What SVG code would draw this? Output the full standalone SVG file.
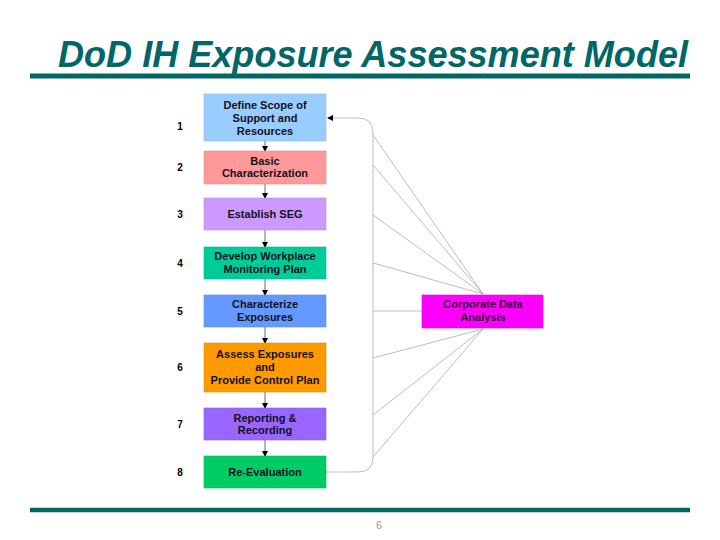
<svg xmlns="http://www.w3.org/2000/svg" width="720" height="540" viewBox="0 0 720 540">
<style>
.t{font-family:"Liberation Sans",Arial,sans-serif;font-weight:bold;font-size:11px;fill:#111122;text-anchor:middle}
.n{font-family:"Liberation Sans",Arial,sans-serif;font-weight:bold;font-size:10px;fill:#000;text-anchor:middle}
.c{stroke:#444;stroke-width:0.8;fill:none}
.f{stroke:#a0a0a0;stroke-width:0.7;fill:none}
.b{stroke-width:0.6}
</style>
<defs>
<marker id="ah" markerWidth="6" markerHeight="6" refX="5" refY="3" orient="auto" markerUnits="userSpaceOnUse">
<path d="M0,0 L6,3 L0,6 Z" fill="#000"/>
</marker>
</defs>
<rect width="720" height="540" fill="#fff"/>
<text x="373" y="67" font-family="'Liberation Sans',Arial,sans-serif" font-weight="bold" font-style="italic" font-size="36" fill="#006666" text-anchor="middle" textLength="630" lengthAdjust="spacingAndGlyphs">DoD IH Exposure Assessment Model</text>
<line x1="30" y1="76" x2="690" y2="76" stroke="#006666" stroke-width="5"/>
<line x1="30" y1="510" x2="690" y2="510" stroke="#006666" stroke-width="4.5"/>
<text x="379" y="529" font-family="'Liberation Sans',Arial,sans-serif" font-size="11" fill="#999" text-anchor="middle">6</text>

<g id="connectors">
<line class="c" x1="265" y1="141" x2="265" y2="151" marker-end="url(#ah)"/>
<line class="c" x1="265" y1="184" x2="265" y2="198" marker-end="url(#ah)"/>
<line class="c" x1="265" y1="230" x2="265" y2="247" marker-end="url(#ah)"/>
<line class="c" x1="265" y1="279" x2="265" y2="295" marker-end="url(#ah)"/>
<line class="c" x1="265" y1="327" x2="265" y2="343" marker-end="url(#ah)"/>
<line class="c" x1="265" y1="392" x2="265" y2="408" marker-end="url(#ah)"/>
<line class="c" x1="265" y1="440" x2="265" y2="456" marker-end="url(#ah)"/>
<path class="f" d="M326,472 H358 Q373,472 373,457 V133 Q373,118 358,118 H328" marker-end="url(#ah)"/>
<line class="f" x1="483" y1="294" x2="373" y2="135"/>
<line class="f" x1="483" y1="294" x2="373" y2="165"/>
<line class="f" x1="483" y1="294" x2="373" y2="215"/>
<line class="f" x1="483" y1="294" x2="373" y2="263"/>
<line class="f" x1="373" y1="311" x2="422" y2="311"/>
<line class="f" x1="483" y1="329" x2="373" y2="358"/>
<line class="f" x1="483" y1="329" x2="373" y2="415"/>
<line class="f" x1="483" y1="329" x2="373" y2="457"/>
</g>

<g id="node1"><rect class="b" x="204" y="94" width="122" height="47" fill="#99CCFF" stroke="#8ab8e6"/>
<text class="t" x="265" y="109">Define Scope of</text><text class="t" x="265" y="122">Support and</text><text class="t" x="265" y="135">Resources</text>
<text class="n" x="180" y="130">1</text></g>
<g id="node2"><rect class="b" x="204" y="151" width="122" height="33" fill="#FF9999" stroke="#e68a8a"/>
<text class="t" x="265" y="165">Basic</text><text class="t" x="265" y="177">Characterization</text>
<text class="n" x="180" y="171">2</text></g>
<g id="node3"><rect class="b" x="204" y="198" width="122" height="32" fill="#CC99FF" stroke="#b88ae6"/>
<text class="t" x="265" y="218">Establish SEG</text>
<text class="n" x="180" y="218">3</text></g>
<g id="node4"><rect class="b" x="204" y="247" width="122" height="32" fill="#00CC99" stroke="#00b88a"/>
<text class="t" x="265" y="260">Develop Workplace</text><text class="t" x="265" y="273">Monitoring Plan</text>
<text class="n" x="180" y="267">4</text></g>
<g id="node5"><rect class="b" x="204" y="295" width="122" height="32" fill="#6699FF" stroke="#5c8ae6"/>
<text class="t" x="265" y="308">Characterize</text><text class="t" x="265" y="321">Exposures</text>
<text class="n" x="180" y="315">5</text></g>
<g id="node6"><rect class="b" x="204" y="343" width="122" height="49" fill="#FF9900" stroke="#e68a00"/>
<text class="t" x="265" y="358">Assess Exposures</text><text class="t" x="265" y="371">and</text><text class="t" x="265" y="384">Provide Control Plan</text>
<text class="n" x="180" y="371">6</text></g>
<g id="node7"><rect class="b" x="204" y="408" width="122" height="32" fill="#9966FF" stroke="#8a5ce6"/>
<text class="t" x="265" y="422">Reporting &amp;</text><text class="t" x="265" y="434">Recording</text>
<text class="n" x="180" y="428">7</text></g>
<g id="node8"><rect class="b" x="204" y="456" width="122" height="32" fill="#00CC66" stroke="#00b85c"/>
<text class="t" x="265" y="476">Re-Evaluation</text>
<text class="n" x="180" y="476">8</text></g>
<g id="node9"><rect class="b" x="422" y="295" width="121" height="33" fill="#FF00FF" stroke="#e600e6"/>
<text class="t" x="483" y="308" style="fill:#330033">Corporate Data</text><text class="t" x="483" y="321" style="fill:#330033">Analysis</text></g>
</svg>
